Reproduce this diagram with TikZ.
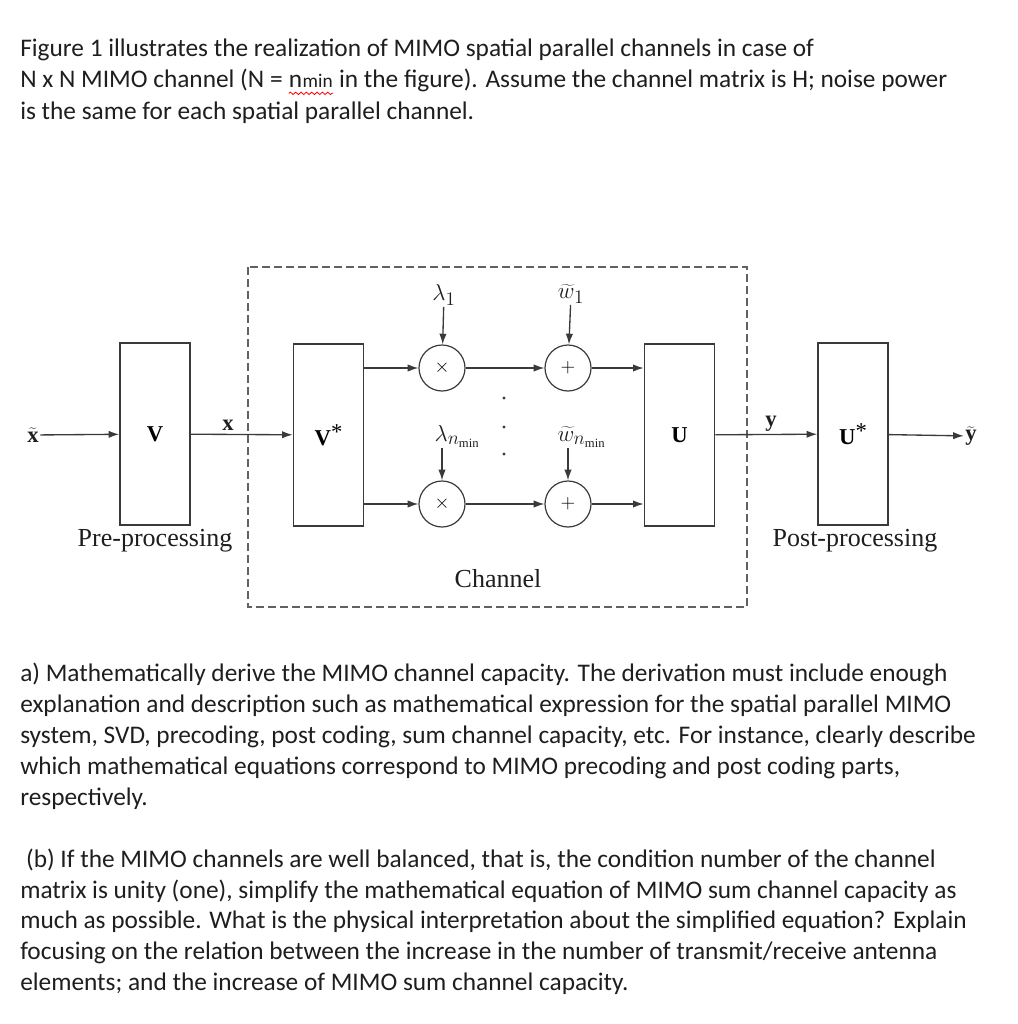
\documentclass[tikz,border=0pt]{standalone}
\usepackage{fontspec}
\setmainfont{Carlito}
\setmathrm{Liberation Serif}
\newfontfamily\serif{Liberation Serif}
\usetikzlibrary{arrows.meta,decorations.pathmorphing}
\definecolor{ink}{HTML}{1E1E1E}
\definecolor{dline}{HTML}{3A3A3A}
\newcommand{\bx}[1]{\hbox{\serif\bfseries #1}}
\begin{document}
\begin{tikzpicture}[x=0.75pt,y=-0.75pt,
  txt/.style={anchor=base west, inner sep=0pt, text=ink, font=\fontsize{19}{23}\selectfont},
  blk/.style={draw=dline, line width=1.2pt, minimum width=52.5pt, minimum height=136.5pt, inner sep=0pt,
     font=\serif\bfseries\fontsize{17}{20}\selectfont},
  op/.style={circle, draw=dline, line width=0.9pt, minimum size=34.5pt, inner sep=0pt, font=\fontsize{14}{16}\selectfont},
  arr/.style={draw=dline, line width=1pt, -{Latex[length=8pt,width=5.5pt]}},
  lbl/.style={inner sep=1pt, text=ink, font=\serif\fontsize{19.5}{22}\selectfont},
  mlbl/.style={inner sep=1pt, text=ink, font=\serif\fontsize{17}{19}\selectfont},
  glbl/.style={inner sep=1pt, text=ink, font=\serif\fontsize{19}{21}\selectfont},
  chbox/.style={draw=dline!80, line width=1pt, dash pattern=on 6pt off 3pt}
]
\useasboundingbox (0,0) rectangle (1017,1024);

% ---------- top text ----------
\node[txt] (t1) at (20,57) {Figure 1 illustrates the realization of MIMO spatial parallel channels in case of};
\node[txt] (t2a) at (20,88) {N x N MIMO channel (N =\kern0.23em};
\node[txt] (t2b) at (t2a.base east) {n\kern0.3pt{\fontsize{14.5}{16}\selectfont min}};
\node[txt] (t2c) at (t2b.base east) {\kern0.23em in the figure). Assume the channel matrix is H; noise power};
\draw[red, line width=0.6pt, decorate, decoration={snake, amplitude=0.9pt, segment length=4pt}]
  ([yshift=-4pt]t2b.base west) -- ([yshift=-4pt]t2b.base east);
\node[txt] (t3) at (20,119) {is the same for each spatial parallel channel.};

% ---------- diagram ----------
\draw[chbox] (248,267) rectangle (747,607);

\node[blk] (V)  at (155,434)   {V};
\node[blk] (Vs) at (328.5,435) {V\raisebox{0.55ex}{\mdseries *}};
\node[blk] (U)  at (679.5,435) {U};
\node[blk] (Us) at (853,434)   {U\raisebox{0.55ex}{\mdseries *}};

\node[op] (m1) at (442,368) {$\times$};
\node[op] (m2) at (442,504) {$\times$};
\node[op] (p1) at (568,368) {$+$};
\node[op] (p2) at (568,504) {$+$};

\node[mlbl] (xt) at (33,435) {$\widetilde{\bx{x}}$};
\node[mlbl] (xl) at (228,425) {\bfseries x};
\node[mlbl] (yl) at (771,424) {\bfseries y};
\node[mlbl] (yt) at (971,436) {$\widetilde{\bx{y}}$};

\node[glbl] (lam1) at (444,295) {$\lambda_1$};
\node[glbl] (w1)   at (571,294) {$\widetilde{w}_1$};
\node[glbl, anchor=base west] (lam2) at (433,441) {$\lambda_{n_{\min}}$};
\node[glbl, anchor=base west] (w2)   at (556,441) {$\widetilde{w}_{n_{\min}}$};

\coordinate (l2s) at (442,448);
\coordinate (w2s) at (568,448);

% connectors
\draw[arr] (xt) -- (V);
\draw[arr] (V) -- (Vs);
\draw[arr] (Vs.east |- m1) -- (m1);
\draw[arr] (Vs.east |- m2) -- (m2);
\draw[arr] (m1) -- (p1);
\draw[arr] (m2) -- (p2);
\draw[arr] (p1) -- (U.west |- p1);
\draw[arr] (p2) -- (U.west |- p2);
\draw[arr] (lam1) -- (m1);
\draw[arr] (w1) -- (p1);
\draw[arr] (l2s) -- (m2);
\draw[arr] (w2s) -- (p2);
\draw[arr] (U) -- (Us);
\draw[arr] (Us) -- (yt);

% dots
\fill[dline] (504,398) circle (1.6) (504,427) circle (1.6) (504,454) circle (1.6);

\node[lbl] (pre)  at (155,541) {Pre-processing};
\node[lbl] (post) at (855,541) {Post-processing};
\node[lbl] (chan) at (498,579) {Channel};

% ---------- question a ----------
\node[txt] (a1) at (20,681) {a) Mathematically derive the MIMO channel capacity. The derivation must include enough};
\node[txt] (a2) at (20,712) {explanation and description such as mathematical expression for the spatial parallel MIMO};
\node[txt] (a3) at (20,743) {system, SVD, precoding, post coding, sum channel capacity, etc. For instance, clearly describe};
\node[txt] (a4) at (20,774) {which mathematical equations correspond to MIMO precoding and post coding parts,};
\node[txt] (a5) at (20,805) {respectively.};

% ---------- question b ----------
\node[txt] (b1) at (20,867) {\kern0.23em(b) If the MIMO channels are well balanced, that is, the condition number of the channel};
\node[txt] (b2) at (20,898) {matrix is unity (one), simplify the mathematical equation of MIMO sum channel capacity as};
\node[txt] (b3) at (20,928) {much as possible. What is the physical interpretation about the simplified equation? Explain};
\node[txt] (b4) at (20,959) {focusing on the relation between the increase in the number of transmit/receive antenna};
\node[txt] (b5) at (20,990) {elements; and the increase of MIMO sum channel capacity.};
\end{tikzpicture}
\end{document}
